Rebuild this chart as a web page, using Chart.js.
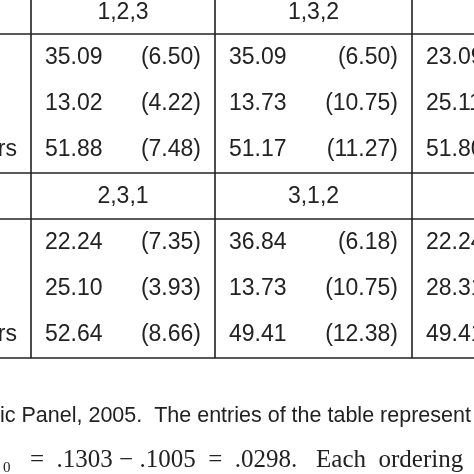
<!DOCTYPE html>
<html lang="en">
<head>
<meta charset="UTF-8">
<title>Table</title>
<script src="https://cdn.jsdelivr.net/npm/chart.js"></script>
<style>body{margin:0;background:#fff}canvas{display:block}</style>
</head>
<body>
<canvas id="tbl" width="474" height="474"></canvas>
<script>
// table contents
const headersTop = ['1,2,3', '1,3,2'];
const meansTop = [['35.09', '13.02', '51.88'], ['35.09', '13.73', '51.17'], ['23.09', '25.11', '51.80']];
const sdsTop = [['(6.50)', '(4.22)', '(7.48)'], ['(6.50)', '(10.75)', '(11.27)'], ['', '', '']];
const headersBot = ['2,3,1', '3,1,2'];
const meansBot = [['22.24', '25.10', '52.64'], ['36.84', '13.73', '49.41'], ['22.24', '28.31', '49.41']];
const sdsBot = [['(7.35)', '(3.93)', '(8.66)'], ['(6.18)', '(10.75)', '(12.38)'], ['', '', '']];
const rowLabels = ['', '', 'rs'];
const captionLines = ['ic Panel, 2005.  The entries of the table represent p', '=  .1303 \u2212 .1005  =  .0298.   Each  ordering  rep'];

// layout
const colX = [31, 215, 412];
const hLines = [34, 173, 219, 358];
const rowYTop = [58, 104, 150], rowYBot = [243, 289, 335];

const seg = (x1, y1, x2, y2) => ({
  data: [{x: x1, y: y1}, {x: x2, y: y2}], showLine: true, borderColor: '#222',
  borderWidth: 1.6, pointRadius: 0, fill: false
});
const datasets = [];
colX.forEach(x => datasets.push(seg(x, 0, x, 358)));
hLines.forEach(y => datasets.push(seg(0, y, 474, y)));

const textPlugin = {
  id: 'tableText',
  afterDatasetsDraw(chart) {
    const c = chart.ctx, sx = chart.scales.x, sy = chart.scales.y;
    const put = (t, x, y, align, font) => {
      c.font = font || '23px "Liberation Sans"';
      c.textAlign = align; c.textBaseline = 'middle'; c.fillStyle = '#222';
      c.fillText(t, sx.getPixelForValue(x), sy.getPixelForValue(y));
    };
    c.save();
    const blocks = [[headersTop, meansTop, sdsTop, 13, rowYTop], [headersBot, meansBot, sdsBot, 197, rowYBot]];
    blocks.forEach(([hd, mn, sd, hy, ry]) => {
      hd.forEach((h, i) => put(h, (colX[i] + colX[i + 1]) / 2, hy, 'center'));
      mn.forEach((col, i) => col.forEach((v, r) => put(v, colX[i] + 14, ry[r], 'left')));
      sd.forEach((col, i) => col.forEach((v, r) => put(v, colX[i + 1] - 14, ry[r], 'right')));
      rowLabels.forEach((l, r) => put(l, 17, ry[r], 'right'));
    });
    put(captionLines[0], 0, 416, 'left', '21.5px "Liberation Sans"');
    put('0', 3, 468, 'left', '15px "Liberation Serif"');
    put(captionLines[1], 30, 460, 'left', '25px "Liberation Serif"');
    c.restore();
  }
};

new Chart(document.getElementById('tbl'), {
  type: 'scatter',
  data: {datasets},
  options: {
    responsive: false, animation: false,
    layout: {padding: 0},
    plugins: {legend: {display: false}, tooltip: {enabled: false}},
    scales: {
      x: {type: 'linear', min: 0, max: 474, display: false},
      y: {type: 'linear', min: 0, max: 474, reverse: true, display: false}
    }
  },
  plugins: [textPlugin]
});
</script>
</body>
</html>
